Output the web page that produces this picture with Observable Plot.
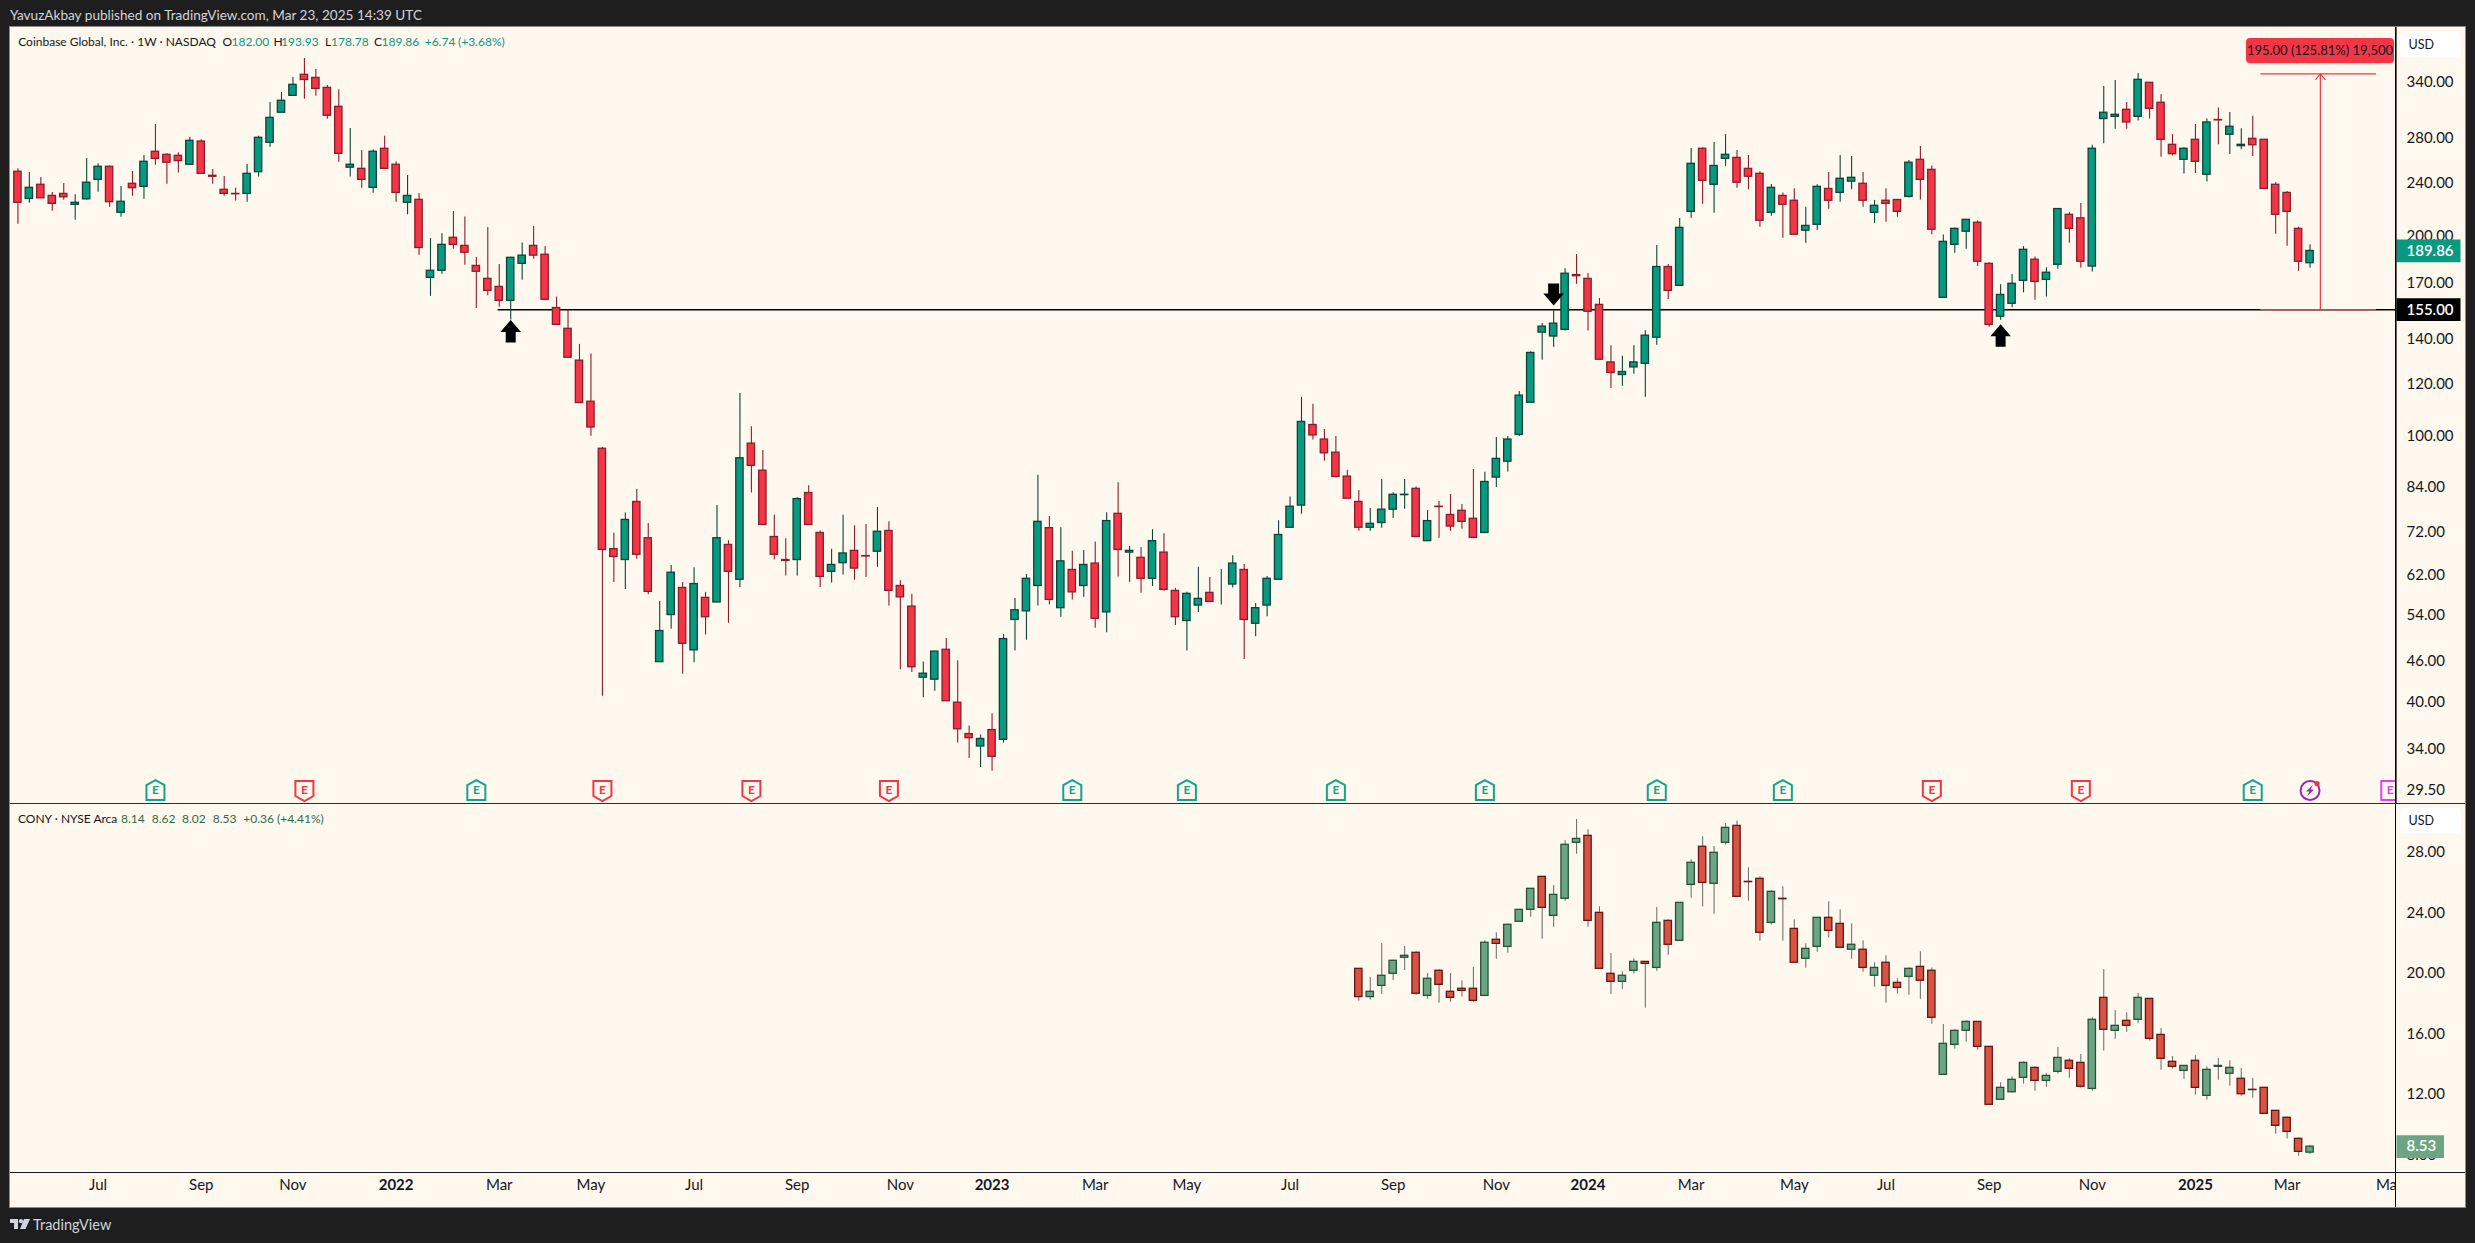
<!DOCTYPE html>
<html>
<head>
<meta charset="utf-8">
<script src="https://cdn.jsdelivr.net/npm/d3@7"></script>
<script src="https://cdn.jsdelivr.net/npm/@observablehq/plot@0.6"></script>
<style>
html,body{margin:0;padding:0;background:#1e1e1e;width:2475px;height:1243px;overflow:hidden;font-family:Lato,"Noto Sans",sans-serif}
#frame{position:absolute;left:10px;top:27px;width:2455px;height:1180px;background:#fff8ee;box-sizing:content-box;box-shadow:0 0 0 1px #8a8a88}
.plotbox{position:absolute;left:0}
</style>
</head>
<body>
<div id="frame"></div>
<div class="plotbox" id="top" style="top:0"></div>
<div class="plotbox" id="bottom" style="top:803px"></div>
<div id="overlays"></div>
<script>
// ---------- COIN weekly candles, first bar week of 2021-05-17 ----------
const coinDir = "RGRRRGGGRG"+"RGRRRGRRRR"+"GGGGGRRRRG"+"RGRRGRGGRR"+"RRRGGRRRRR"+"RRRGRRGGRG"+"RGRGRRRRGR"+"RGGRRGRRRG"+"GRRRGRGGGG"+"RGRGRGRGRG"+"RRGGRGGRGG"+"GGGRRRRRGG"+"GGRGRRRRGG"+"GGGGGGRRRR"+"GGGGRGGRGG"+"RRRGRRGGRG"+"GRGRRGRRGG"+"GRRGGGRGGR"+"RGGGRGRRRG"+"RGRGGRRRRRG";
const coinHigh = [
252.1,249.0,244.6,232.3,239.7,230.5,261.2,256.5,254.6,237.2,
249.8,264.0,293.8,265.5,266.5,280.9,278.7,251.5,245.5,235.8,
256.0,282.0,317.0,328.1,345.5,369.0,355.2,336.1,331.4,289.7,
268.6,269.2,282.0,258.3,246.4,231.5,198.1,201.5,217.5,213.5,
185.6,205.8,181.2,185.8,195.2,206.5,192.7,161.9,155.0,137.5,
133.0,96.3,71.6,76.8,83.3,74.1,56.6,64.1,60.4,63.6,
58.4,78.8,69.8,116.1,103.5,95.3,76.2,70.3,81.0,84.4,
72.2,67.8,76.2,73.5,73.8,78.3,74.5,60.8,58.0,45.9,
47.6,49.8,46.1,36.8,35.7,38.4,50.5,57.2,62.1,87.5,
75.9,73.0,67.3,67.5,69.5,76.9,85.3,68.4,68.2,72.5,
71.5,59.2,58.4,63.7,61.5,63.2,66.3,64.3,56.2,61.7,
74.8,81.2,114.5,111.8,102.5,100.0,89.0,83.0,78.0,86.2,
82.4,86.2,84.0,77.5,79.9,81.9,79.1,89.3,88.4,99.7,
100.0,116.9,134.1,147.8,155.0,178.5,187.6,175.7,161.1,136.9,
132.0,136.9,144.1,193.4,181.2,212.3,270.5,271.1,276.1,283.8,
268.6,264.0,249.6,238.9,232.0,235.4,220.8,238.6,249.0,264.0,
263.1,249.0,226.1,235.4,226.7,259.5,272.4,254.6,200.6,205.6,
211.5,210.7,182.2,169.0,175.1,192.7,186.0,179.1,219.4,216.8,
223.7,273.6,334.9,342.0,317.0,350.3,339.6,325.7,283.8,271.1,
293.8,299.4,310.9,306.3,289.5,302.2,278.7,240.3,233.1,206.0,193.93];
const coinBodyTop = [
249.6,236.1,238.6,229.6,231.2,224.2,240.3,253.9,253.9,225.0,
239.4,258.3,267.4,264.6,263.7,277.7,277.0,246.1,234.5,231.2,
247.8,280.6,300.6,318.9,336.9,348.8,345.1,333.4,312.3,255.7,
252.1,267.4,270.2,255.7,229.6,226.5,177.3,193.9,198.7,193.2,
180.3,172.4,167.7,185.4,186.8,193.2,187.4,155.9,145.1,130.0,
112.8,95.9,67.8,75.0,79.8,70.4,51.1,62.5,59.3,60.1,
57.3,70.4,68.8,92.8,97.6,88.9,70.7,65.3,80.6,82.3,
71.7,64.2,66.8,67.4,66.2,72.0,72.2,59.7,55.6,44.1,
47.6,47.9,39.9,35.8,35.2,36.3,49.7,54.9,61.2,74.5,
72.9,65.0,63.1,64.2,64.5,74.7,76.6,67.4,65.8,69.7,
67.0,58.7,58.1,57.1,58.3,56.7,64.5,63.1,55.3,61.2,
71.2,78.5,105.2,104.1,99.0,94.6,87.1,79.8,74.0,77.7,
81.8,81.8,83.5,74.7,78.5,76.3,77.4,75.3,85.5,92.6,
99.0,115.2,133.5,146.2,147.7,175.5,174.7,172.4,157.6,129.2,
125.0,129.2,141.7,179.6,179.6,205.6,256.5,270.2,254.6,264.6,
261.8,252.1,247.8,236.1,229.6,225.8,207.0,236.9,235.2,243.6,
244.4,239.4,221.9,225.8,226.4,257.5,260.1,251.2,195.9,204.9,
211.4,209.3,181.6,163.1,169.5,190.6,184.2,176.1,219.4,215.1,
212.5,270.2,306.0,303.8,309.1,342.8,339.3,316.7,273.9,270.2,
278.7,295.9,298.4,291.5,273.9,279.6,278.7,238.6,232.0,204.9,189.86];
const coinBodyBottom = [
224.2,227.2,227.7,223.4,228.5,222.7,226.9,242.7,224.7,216.6,
235.8,236.9,260.9,257.5,258.9,255.7,247.8,245.3,231.2,230.9,
231.2,249.2,275.8,306.0,324.4,342.6,332.2,302.8,265.5,253.1,
242.7,236.1,252.1,232.0,224.2,191.8,173.0,177.3,193.9,188.7,
176.7,165.4,159.8,159.8,181.6,186.8,160.4,147.1,131.3,112.3,
103.2,67.6,66.0,65.3,66.5,58.5,45.9,54.0,48.9,47.8,
53.6,56.4,62.7,61.0,90.4,73.7,66.5,65.1,65.3,73.7,
61.6,62.7,64.6,63.4,66.1,67.2,58.7,57.4,45.1,43.5,
43.2,40.1,36.4,35.3,34.3,33.1,35.1,53.1,54.7,59.7,
56.9,55.3,58.4,59.7,53.3,54.5,67.6,67.0,61.2,61.2,
58.9,53.6,52.9,55.8,56.5,56.7,60.0,53.1,52.4,55.8,
61.0,73.0,78.8,100.4,94.4,87.0,80.7,73.0,73.0,74.2,
77.7,81.7,70.7,69.7,78.4,73.3,74.5,70.5,71.7,86.8,
91.7,100.6,112.4,143.2,141.3,144.6,174.0,153.9,130.4,124.6,
123.7,127.0,128.6,140.7,165.4,168.3,217.3,241.9,238.6,260.9,
240.3,245.3,210.7,216.6,222.7,200.8,203.6,207.8,225.8,232.0,
241.2,225.8,216.6,223.4,217.3,228.8,242.7,204.3,161.5,193.9,
202.9,182.9,147.1,151.3,158.2,171.2,170.6,171.8,181.0,204.9,
182.9,179.9,299.4,301.7,295.9,301.7,310.1,278.7,265.2,260.1,
258.3,247.0,298.0,283.6,272.6,273.5,235.2,215.1,217.3,182.9,182.00];
const coinLow = [
208.2,223.9,227.7,217.8,226.1,211.0,226.1,232.5,220.8,213.3,
229.3,226.9,255.3,239.1,248.4,255.7,247.8,239.1,229.3,225.5,
224.7,245.0,271.6,306.0,324.4,320.5,323.9,299.2,257.9,245.0,
235.8,231.7,252.1,224.7,215.1,187.1,162.3,175.2,190.9,180.7,
155.7,162.6,156.3,149.6,171.6,184.5,160.4,147.1,131.3,112.3,
100.1,40.8,60.4,59.0,65.5,57.9,45.9,51.4,44.0,45.8,
50.4,56.4,52.5,59.4,82.3,73.7,65.3,61.8,61.8,73.7,
59.4,60.3,62.0,60.9,61.5,63.7,55.7,44.7,44.3,40.6,
41.5,40.1,34.7,32.9,31.9,31.5,34.7,47.7,49.5,55.7,
55.9,53.6,56.9,57.4,51.6,50.8,61.6,60.5,58.2,59.6,
58.7,52.1,47.7,54.5,56.5,55.9,59.3,46.3,50.1,53.7,
61.0,73.0,76.5,98.8,91.9,86.7,80.7,72.1,72.1,72.9,
75.4,77.8,70.7,69.7,70.4,72.1,72.6,70.5,71.7,83.9,
88.5,100.0,112.4,130.2,136.2,144.0,169.2,144.0,130.4,118.1,
119.0,124.0,114.6,137.1,160.6,168.3,212.6,223.1,216.3,254.3,
235.8,234.5,206.0,214.0,198.4,200.8,195.0,203.8,219.2,224.7,
234.5,220.8,208.8,209.7,213.3,228.0,226.4,200.7,161.5,188.4,
190.9,180.0,145.9,149.5,156.0,164.3,160.2,161.9,178.3,195.0,
179.0,176.5,274.8,289.0,289.0,297.3,299.4,262.4,263.7,247.6,
248.1,240.8,273.9,264.9,269.2,263.1,235.2,201.2,192.9,177.0,178.78];

// ---------- CONY weekly candles, from bar 117 ----------
const conyFirstBar = 117;
const conyDir = "RGGGGRGRRR"+"RGRGGGRGGG"+"RRRGGRGRGG"+"RGGRRRGRRG"+"GRRGRGRRGR"+"RGGGRRGGGR"+"GGRRGRGRGR"+"RRGRGGGRRR"+"RRRG";
const conyHigh = [
20.29,19.72,21.96,20.88,21.77,21.41,19.98,20.22,19.98,19.50,
20.38,22.14,22.67,23.26,24.19,25.58,26.37,25.80,28.75,30.16,
29.48,24.39,21.30,20.09,20.95,20.75,24.34,23.53,24.65,27.50,
29.02,28.38,29.90,30.07,26.97,26.37,25.45,25.71,23.53,21.94,
23.66,24.72,24.19,23.26,22.14,20.69,21.15,19.63,20.35,21.41,
20.35,16.61,16.26,16.85,16.78,15.13,12.75,13.15,14.14,13.81,
13.35,15.09,14.34,14.62,17.05,20.24,17.53,17.38,18.66,18.30,
16.34,14.49,13.87,14.54,13.81,14.36,14.21,13.70,13.04,12.42,
10.90,10.50,9.11,8.62];
const conyBodyTop = [
20.29,18.77,19.83,20.82,21.15,21.35,19.63,20.16,18.77,18.97,
18.97,22.01,22.21,23.20,24.19,25.58,26.37,25.18,28.49,28.88,
29.08,23.99,19.96,19.83,20.75,20.75,23.33,23.46,24.65,27.30,
28.36,27.96,29.61,29.74,26.04,26.24,25.38,24.92,22.93,21.61,
23.66,23.66,23.26,21.88,21.55,20.35,20.69,19.36,20.29,20.42,
20.16,15.33,16.19,16.78,16.78,15.13,12.42,12.95,14.07,13.74,
13.21,14.40,14.21,14.07,16.92,18.37,16.52,16.85,18.37,18.30,
15.92,14.14,13.87,14.21,13.61,13.87,13.74,13.02,12.29,12.42,
10.90,10.44,9.05,8.53];
const conyBodyBottom = [
18.42,18.42,19.16,19.96,21.02,18.64,18.50,19.23,18.37,18.83,
18.17,18.50,21.94,21.74,23.40,24.19,24.32,23.79,24.92,28.62,
23.46,20.29,19.43,19.43,20.16,20.62,20.35,21.88,22.14,25.84,
25.97,25.91,28.62,25.05,26.02,22.67,23.33,24.89,20.69,20.95,
21.74,22.80,21.68,21.55,20.35,19.83,19.16,19.03,19.76,19.50,
17.05,13.28,15.26,16.19,15.13,11.30,11.63,12.13,13.08,12.88,
12.88,13.48,13.68,12.49,12.35,16.26,16.19,16.52,16.92,15.66,
14.34,13.81,13.54,12.42,11.89,13.81,13.35,12.00,12.27,10.70,
9.91,9.51,8.19,8.14];
const conyLow = [
18.15,18.22,18.59,19.52,20.18,18.55,18.28,18.02,18.08,18.42,
18.08,18.50,20.93,21.32,23.40,23.70,22.25,23.04,24.76,27.87,
23.04,20.29,18.59,18.92,19.94,17.69,20.13,21.19,22.14,24.96,
24.37,23.90,28.47,25.05,24.76,22.12,23.18,22.12,20.69,20.33,
21.39,22.32,21.68,20.93,20.07,19.08,18.02,18.61,18.55,18.28,
16.63,13.28,14.98,15.44,14.91,11.30,11.63,12.07,12.66,12.20,
12.46,13.32,13.06,12.40,12.20,14.85,15.64,16.10,16.65,15.51,
13.59,13.68,12.99,11.94,11.61,12.93,12.53,11.87,11.74,10.70,
9.36,9.03,7.90,8.02];

// ---------- axes ----------
const coinTicks = [340,280,240,200,170,140,120,100,84,72,62,54,46,40,34,29.5];
const conyTicks = [28,24,20,16,12,8];
const monthTicks = [["2021-07-05","Jul"],["2021-09-06","Sep"],["2021-11-01","Nov"],["2022-03-07","Mar"],["2022-05-02","May"],["2022-07-04","Jul"],["2022-09-05","Sep"],["2022-11-07","Nov"],["2023-03-06","Mar"],["2023-05-01","May"],["2023-07-03","Jul"],["2023-09-04","Sep"],["2023-11-06","Nov"],["2024-03-04","Mar"],["2024-05-06","May"],["2024-07-01","Jul"],["2024-09-02","Sep"],["2024-11-04","Nov"],["2025-03-03","Mar"],["2025-05-05","May"]];
const yearTicks = [["2022-01-03","2022"],["2023-01-02","2023"],["2024-01-01","2024"],["2025-01-06","2025"]];

// ---------- annotations ----------
const keyLevel = 155, keyLevelFromBar = 41.9;
const rangeTop = 350, rangeFromBar = 195.7, rangeToBar = 205.8, rangeAtBar = 200.9;
const upArrows = [[43,143.9],[173,141.8]];
const downArrows = [[134,163.3]];
const earningsUp = [12,40,92,102,115,128,143,154,195];
const earningsDown = [25,51,64,76,167,180];
const dividendBar = 200, futureEarningsBar = 207, markerPrice = 29.46;

// ---------- helpers ----------
const WEEK = 7*864e5;
const t0 = +new Date("2021-05-17T00:00:00Z");
const barDate = i => new Date(t0 + i*WEEK);
const xDomain = [barDate(-0.646), barDate(207.5)];
const halfBar = 0.32*WEEK;

const bars = (dir,high,top,bot,low,first=0) => Array.from(high,(h,k)=>({
  date: barDate(first+k), up: dir[k]==="G", high:h, top:top[k], bottom:bot[k], low:low[k]
}));
const coin = bars(coinDir,coinHigh,coinBodyTop,coinBodyBottom,coinLow);
const cony = bars(conyDir,conyHigh,conyBodyTop,conyBodyBottom,conyLow,conyFirstBar);

const GREEN="#089981",GREEN_D="#0a4438",RED="#f23645",RED_D="#8c1c2c";
const CGREEN="#6ba583",CGREEN_D="#225437",CRED="#d75442",CRED_D="#6b1414",CWICK="#737375";
const BG="#fff8ee";

const candles = (data,up,upEdge,down,downEdge,wickUp,wickDown) => [
  Plot.ruleX(data,{x:"date",y1:"low",y2:"high",stroke:d=>d.up?wickUp:wickDown,strokeWidth:1.1}),
  Plot.rect(data,{x1:d=>new Date(+d.date-halfBar),x2:d=>new Date(+d.date+halfBar),y1:"bottom",y2:"top",
    fill:d=>d.up?up:down,stroke:d=>d.up?upEdge:downEdge,strokeWidth:1.3})
];

// custom symbols (drawn relative to the data point)
const poly = pts => ({draw(c){pts.forEach(([x,y],i)=>i?c.lineTo(x,y):c.moveTo(x,y));c.closePath();}});
const arrowUp = poly([[0,-11.3],[10.3,0.9],[5,0.9],[5,11.3],[-5,11.3],[-5,0.9],[-10.3,0.9]]);
const arrowDown = poly([[0,11],[10.3,-1],[5.5,-1],[5.5,-11],[-5.5,-11],[-5.5,-1],[-10.3,-1]]);
const badgeUp = poly([[0,-10.5],[9,-5.5],[9,9.5],[-9,9.5],[-9,-5.5]]);
const badgeDown = poly([[0,10.5],[9,5.5],[9,-9.5],[-9,-9.5],[-9,5.5]]);
const squareBadge = poly([[-9,-9.5],[9,-9.5],[9,9.5],[-9,9.5]]);
const tag = (w,h) => poly([[0.5,-h],[w,-h],[w,h],[0.5,h]]);
const chevron = {draw(c){c.moveTo(-5,6);c.lineTo(0,0);c.lineTo(5,6);}};
const ringBolt = {draw(c){c.moveTo(9.5,0);c.arc(0,0,9.5,0,Math.PI*2);}};
const bolt = poly([[3,-6],[-4,1],[-0.5,1],[-3,6],[4,-1],[0.5,-1]]);
const redDot = {draw(c){c.moveTo(9.6,-7);c.arc(7,-7,2.6,0,Math.PI*2);}};

const yAxis = ticks => Plot.axisY({anchor:"right",ticks,tickSize:0,tickPadding:10.5,label:null,
  tickFormat:d=>d.toFixed(2),fontSize:15,fill:"#131722"});
const priceTag = (price,text,fill,w) => [
  Plot.dot([price],{x:()=>xDomain[1],y:d=>d,symbol:tag(w,11.4),fill,stroke:"none",r:5}),
  Plot.text([text],{x:()=>xDomain[1],y:()=>price,text:d=>d,dx:10.5,textAnchor:"start",fill:"#fff",fontSize:15,fontWeight:600})
];

const topPlot = Plot.plot({
  width:2475,height:803,marginTop:27,marginBottom:0,marginLeft:10,marginRight:79.5,
  style:{background:"transparent",fontFamily:"Lato, 'Noto Sans', sans-serif"},
  x:{type:"utc",domain:xDomain,axis:null},
  y:{type:"log",domain:[28.17,410.7],axis:null},
  marks:[
    yAxis(coinTicks),
    Plot.ruleY([keyLevel],{x1:()=>barDate(keyLevelFromBar),x2:()=>xDomain[1],stroke:"#000",strokeWidth:1.5}),
    ...candles(coin,GREEN,GREEN_D,RED,RED_D,GREEN_D,RED_D),
    Plot.ruleY([keyLevel,rangeTop],{x1:()=>barDate(rangeFromBar),x2:()=>barDate(rangeToBar),stroke:RED,strokeWidth:1.2}),
    Plot.ruleX([rangeAtBar],{x:d=>barDate(d),y1:keyLevel,y2:rangeTop,stroke:RED,strokeWidth:1.2}),
    Plot.dot([rangeTop],{x:()=>barDate(rangeAtBar),y:d=>d,symbol:chevron,fill:"none",stroke:RED,strokeWidth:1.2,r:5}),
    Plot.dot(upArrows,{x:d=>barDate(d[0]),y:d=>d[1],symbol:arrowUp,fill:"#000",stroke:"none",r:5}),
    Plot.dot(downArrows,{x:d=>barDate(d[0]),y:d=>d[1],symbol:arrowDown,fill:"#000",stroke:"none",r:5}),
    Plot.dot(earningsUp,{x:d=>barDate(d),y:()=>markerPrice,symbol:badgeUp,fill:BG,stroke:"#12a58e",strokeWidth:2,r:5}),
    Plot.text(earningsUp,{x:d=>barDate(d),y:()=>markerPrice,text:()=>"E",fill:"#12a58e",fontSize:12,fontWeight:700}),
    Plot.dot(earningsDown,{x:d=>barDate(d),y:()=>markerPrice,symbol:badgeDown,fill:BG,stroke:RED,strokeWidth:2,r:5}),
    Plot.text(earningsDown,{x:d=>barDate(d),y:()=>markerPrice,text:()=>"E",fill:RED,fontSize:12,fontWeight:700}),
    Plot.dot([dividendBar],{x:d=>barDate(d),y:()=>markerPrice,symbol:ringBolt,fill:BG,stroke:"#9c27b0",strokeWidth:2,r:5}),
    Plot.dot([dividendBar],{x:d=>barDate(d),y:()=>markerPrice,symbol:bolt,fill:"#9c27b0",stroke:"none",r:5}),
    Plot.dot([dividendBar],{x:d=>barDate(d),y:()=>markerPrice,symbol:redDot,fill:RED,stroke:"none",r:5}),
    Plot.dot([futureEarningsBar],{x:d=>barDate(d),y:()=>markerPrice,symbol:squareBadge,fill:BG,stroke:"#e040fb",strokeWidth:2,r:5,clip:true}),
    Plot.text([futureEarningsBar],{x:d=>barDate(d),y:()=>markerPrice,text:()=>"E",fill:"#e040fb",fontSize:12,fontWeight:700,clip:true}),
    ...priceTag(189.86,"189.86",GREEN,64.5),
    ...priceTag(155,"155.00","#000",64.5),
    Plot.ruleX([xDomain[1]],{stroke:"#000",strokeWidth:1.2})
  ]
});
document.getElementById("top").append(topPlot);

const botPlot = Plot.plot({
  width:2475,height:404,marginTop:0,marginBottom:35,marginLeft:10,marginRight:79.5,
  style:{background:"transparent",fontFamily:"Lato, 'Noto Sans', sans-serif"},
  x:{type:"utc",domain:xDomain,axis:null},
  y:{domain:[6.823,31.22],axis:null},
  marks:[
    yAxis(conyTicks),
    ...candles(cony,CGREEN,CGREEN_D,CRED,CRED_D,CWICK,CWICK),
    ...priceTag(8.53,"8.53",CGREEN,48),
    Plot.text(monthTicks,{x:d=>new Date(d[0]+"T00:00:00Z"),text:d=>d[1],frameAnchor:"bottom",dy:17.5,fontSize:15,fill:"#131722"}),
    Plot.text(yearTicks,{x:d=>new Date(d[0]+"T00:00:00Z"),text:d=>d[1],frameAnchor:"bottom",dy:17.5,fontSize:15,fontWeight:700,fill:"#131722"})
  ]
});
document.getElementById("bottom").append(botPlot);

// ---------- page furniture ----------
const overlays = document.getElementById("overlays");
const put = (html,style) => {const e=document.createElement("div");e.style.cssText="position:absolute;"+style;e.innerHTML=html;overlays.append(e);return e;};
const label = (x,yc,s,color,size=12) => put(s,`left:${x}px;top:${yc-8}px;line-height:16px;white-space:pre;font-size:${size}px;color:${color}`);
// frame lines
put("","left:2396px;top:1173px;width:69px;height:34px;background:"+BG);
put("","left:2395px;top:27px;width:1.2px;height:1180px;background:#000");
put("","left:10px;top:802.5px;width:2455px;height:1.4px;background:#2a2e39");
put("","left:10px;top:1171.7px;width:2455px;height:1.2px;background:#131722");
put("USD",'left:2399.5px;top:31.7px;width:61px;height:25px;background:#fff;border-radius:4px;font-size:12.5px;line-height:25px;color:#131722;text-indent:9px');
put("USD",'left:2399.5px;top:808px;width:61px;height:25px;background:#fff;border-radius:4px;font-size:12.5px;line-height:25px;color:#131722;text-indent:9px');
put("195.00 (125.81%) 19,500",`left:2246px;top:38px;width:148px;height:25px;background:${RED};border-radius:4px;font-size:13px;line-height:25px;white-space:nowrap;color:#131722;text-align:center;box-shadow:0 1px 2px rgba(0,0,0,.15)`);
label(10,15,"YavuzAkbay published on TradingView.com, Mar 23, 2025 14:39 UTC","#d1d4dc",13.6);
const K="#131722";
[[18.2,"Coinbase Global, Inc. · 1W · NASDAQ",K],[222.6,"O",K],[231.5,"182.00",GREEN],[273.6,"H",K],[281,"193.93",GREEN],[325,"L",K],[331,"178.78",GREEN],[374,"C",K],[381.5,"189.86",GREEN],[424.7,"+6.74",GREEN],[458,"(+3.68%)",GREEN]].forEach(([x,s,c])=>label(x,42,s,c));
const CV="#2f6b4a";
[[18,"CONY · NYSE Arca",K],[121,"8.14",CV],[151.7,"8.62",CV],[182,"8.02",CV],[212.7,"8.53",CV],[243.3,"+0.36",CV],[277,"(+4.41%)",CV]].forEach(([x,s,c])=>label(x,819,s,c));
put('<svg width="20" height="12" viewBox="0 0 20 12"><path fill="#d1d4dc" d="M0 0h8v10H4V4H0zM14 0h6l-4.5 10H10z"/><circle cx="11" cy="2.2" r="2.1" fill="#d1d4dc"/></svg>',"left:10px;top:1219px;line-height:0");
label(33,1225,"TradingView","#d1d4dc",14.5);
</script>
</body>
</html>
